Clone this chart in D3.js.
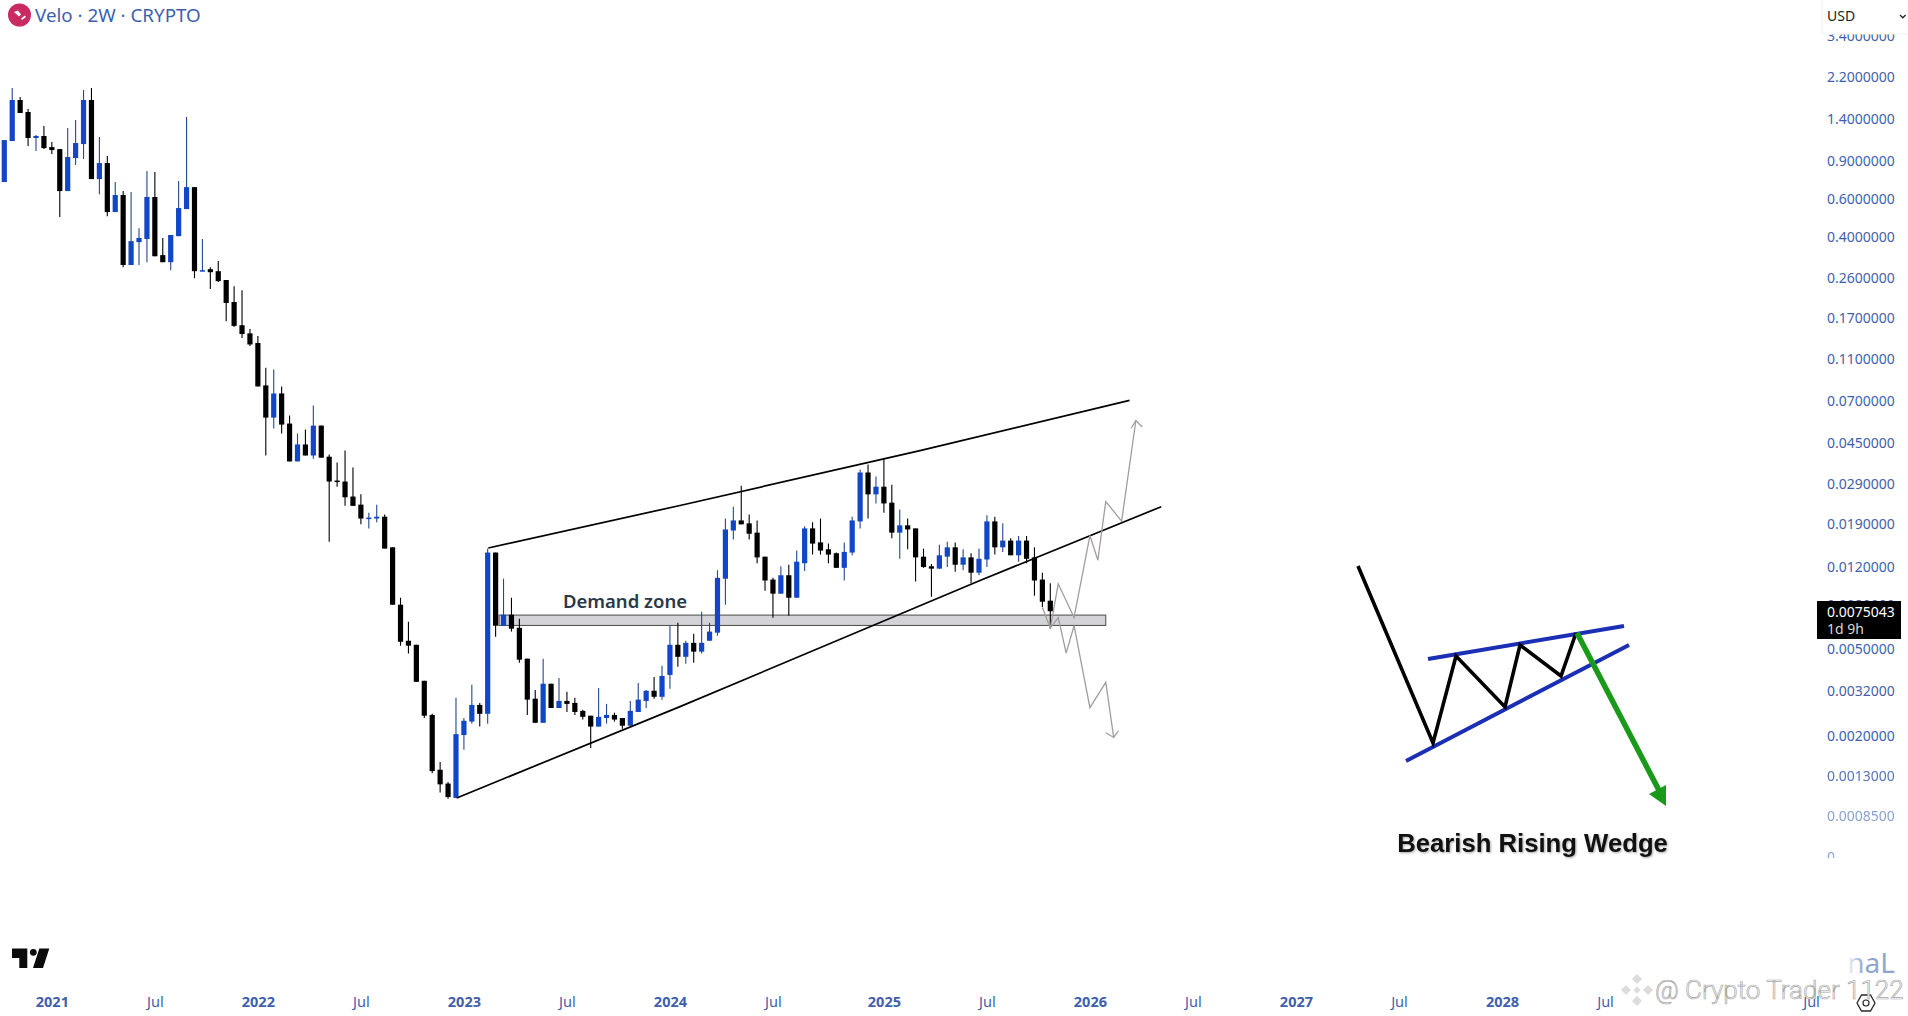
<!DOCTYPE html>
<html>
<head>
<meta charset="utf-8">
<title>Velo 2W</title>
<script src="https://cdn.jsdelivr.net/npm/d3@7"></script>
<style>
    html, body { margin: 0; padding: 0; background: #fff; overflow: hidden; }
    svg { display: block; }
    .axis path, .axis line { display: none; }
</style>
</head>
<body>
<div id="chart"></div>
<script>
// Two week candles, one entry per bar, left to right
const opens = [0.72,1.113,1.723,1.516,1.15,1.175,1.044,1.022,0.654,0.929,1.078,1.723,0.743,0.881,0.523,0.627,0.298,0.38,0.393,0.614,0.331,0.307,0.405,0.54,0.682,0.28,0.285,0.279,0.254,0.201,0.157,0.144,0.13,0.0828,0.0588,0.076,0.0552,0.0369,0.0442,0.0393,0.054,0.0388,0.0301,0.0298,0.0254,0.0233,0.0202,0.0201,0.0205,0.0148,
    0.00804,0.00548,0.00525,0.00358,0.00249,0.00139,0.0012,0.00103,0.00201,0.00232,0.00277,0.00252,0.014,0.00643,0.00723,0.00629,0.00453,0.00296,0.00229,0.00347,0.00268,0.00289,0.00283,0.0026,0.00247,0.0022,0.00241,0.00249,0.00241,0.00222,0.00257,0.00289,0.00322,0.00302,0.00381,0.00525,0.00462,0.00536,0.00488,0.00548,
    0.00597,0.0106,0.0177,0.0197,0.0191,0.0173,0.0134,0.0105,0.00904,0.011,0.00866,0.0125,0.0181,0.0156,0.0145,0.0139,0.0119,0.014,0.0195,0.0328,0.026,0.0282,0.0238,0.0173,0.0187,0.0181,0.0134,0.0121,0.0118,0.0134,0.0148,0.0123,0.0133,0.0113,0.013,0.0195,0.0148,0.0159,0.0136,0.0159,0.0133,0.0105,0.00839];
const highs = [1.125,1.957,1.778,1.566,1.187,1.307,1.101,1.022,1.279,1.393,1.916,1.957,1.162,0.949,0.72,0.654,0.647,0.441,0.809,0.801,0.397,0.41,0.727,1.438,0.682,0.393,0.291,0.311,0.254,0.238,0.228,0.151,0.14,0.1,0.0981,0.0819,0.0601,0.0497,0.0518,0.0669,0.054,0.0397,0.0365,0.0414,0.0346,0.026,0.0214,0.0233,0.021,0.0148,
    0.00866,0.00671,0.00525,0.00358,0.00252,0.00151,0.00122,0.00299,0.00241,0.00343,0.00283,0.0146,0.014,0.0106,0.00866,0.00692,0.00453,0.00325,0.00453,0.00347,0.00369,0.00319,0.00299,0.00263,0.00247,0.00332,0.0028,0.00255,0.00241,0.00289,0.0035,0.00325,0.00373,0.0042,0.00643,0.00664,0.00548,0.00591,0.00746,0.00664,
    0.0116,0.0201,0.0228,0.0285,0.021,0.0197,0.0134,0.0107,0.0121,0.0123,0.0143,0.0185,0.0193,0.0201,0.0154,0.014,0.0156,0.0205,0.0339,0.0357,0.0314,0.038,0.0288,0.0221,0.0201,0.0181,0.0146,0.0124,0.0152,0.0157,0.0156,0.0145,0.0139,0.0146,0.0208,0.0205,0.0191,0.0163,0.0167,0.0167,0.0148,0.0113,0.0101];
const lows = [0.72,1.113,1.5,1.055,1.001,1.022,0.97,0.496,0.654,0.863,0.92,0.743,0.633,0.501,0.523,0.291,0.298,0.298,0.307,0.327,0.307,0.282,0.405,0.54,0.259,0.279,0.231,0.249,0.164,0.154,0.137,0.126,0.0819,0.0393,0.0523,0.0497,0.0369,0.0369,0.0393,0.038,0.0384,0.0157,0.0282,0.023,0.023,0.0189,0.0181,0.0193,0.0146,0.00804,
    0.0052,0.00478,0.00354,0.00241,0.00134,0.00109,0.00102,0.00103,0.00172,0.00227,0.0022,0.00227,0.00572,0.00643,0.00604,0.00434,0.00249,0.00229,0.00229,0.00268,0.00268,0.00257,0.00249,0.00237,0.00175,0.0022,0.00227,0.00232,0.00215,0.00222,0.00257,0.00268,0.00296,0.00293,0.00329,0.00416,0.00429,0.00434,0.00478,0.00548,
    0.00578,0.00804,0.0161,0.0189,0.0161,0.0125,0.00933,0.007,0.00904,0.00715,0.00866,0.0115,0.0137,0.0137,0.0125,0.0119,0.0104,0.0136,0.0181,0.0201,0.0236,0.0214,0.0163,0.0131,0.0145,0.0103,0.0119,0.00875,0.0118,0.012,0.0114,0.0116,0.0101,0.011,0.012,0.0137,0.0141,0.0136,0.0127,0.0125,0.00885,0.00784,0.00623];
const closes = [1.125,1.723,1.5,1.15,1.175,1.033,1.012,0.654,0.939,1.09,1.723,0.743,0.881,0.523,0.627,0.298,0.384,0.397,0.614,0.327,0.307,0.41,0.546,0.682,0.279,0.282,0.276,0.251,0.199,0.156,0.143,0.128,0.0819,0.0588,0.076,0.0546,0.0369,0.0442,0.0393,0.054,0.0384,0.0298,0.0298,0.0252,0.023,0.0201,0.0203,0.0205,0.0146,0.00804,
    0.00542,0.0052,0.00354,0.00247,0.00137,0.00119,0.00104,0.00203,0.00234,0.00277,0.00252,0.014,0.00643,0.00723,0.00623,0.00448,0.00293,0.00229,0.00347,0.00268,0.00289,0.0028,0.00257,0.00244,0.0022,0.00244,0.00249,0.00237,0.00222,0.0026,0.00293,0.00322,0.00302,0.00377,0.00525,0.00462,0.00536,0.00488,0.00536,0.00604,
    0.0107,0.0179,0.0197,0.0189,0.0171,0.0133,0.0104,0.00904,0.011,0.00866,0.0127,0.0181,0.0154,0.0143,0.0137,0.0119,0.0141,0.0197,0.0328,0.026,0.0282,0.0236,0.0173,0.0187,0.0179,0.0133,0.012,0.0118,0.0136,0.0148,0.0123,0.0133,0.0113,0.0131,0.0195,0.0148,0.0159,0.0136,0.0159,0.0131,0.0104,0.0083,0.0075];

// Axis ticks: bar number and label
const timeTickBars = [6,19,32,45,58,71,84,97,111,124,137,150,163,176,189,202,228];
const timeTickLabels = ['2021','Jul','2022','Jul','2023','Jul','2024','Jul','2025','Jul','2026','Jul','2027','Jul','2028','Jul','Jul'];
const priceTicks = [3.4,2.2,1.4,0.9,0.6,0.4,0.26,0.17,0.11,0.07,0.045,0.029,0.019,0.012,0.008,0.005,0.0032,0.002,0.0013,0.00085,0.00055];
const lastPrice = 0.0075043;

// Drawn lines on the chart as [bar, price]
const upperTrend = [[61.08,0.0147],[85.27,0.0231],[115.56,0.0414],[142,0.0706]];
const lowerTrend = [[57.09,0.00103],[85.27,0.00272],[123.13,0.0104],[146,0.0228]];
const demandZone = { from: 62.43, to: 139, top: 0.0072, bottom: 0.00645 };
const bearPath = [[131,0.0078],[132,0.00627],[133,0.00702],[134,0.00481],[135,0.00643],[137,0.00269],[139,0.00352],[140,0.00196]];
const bearHead = [[139,0.00206],[140,0.00196],[140.6,0.0021]];
const bullPath = [[132,0.00627],[133,0.01004],[135,0.00702],[137,0.01678],[138,0.0129],[139,0.0241],[141,0.01955],[142.8,0.057]];
const bullHead = [[142.2,0.0525],[142.8,0.057],[143.6,0.0532]];

// Small wedge sketch on the right, in its own 0..320 / 0..250 units
const sketchZigzag = [[18,26],[93,203],[116,116],[165,167],[180,105],[221,136],[236,93]];
const sketchUpper = [[88,119],[284,86]];
const sketchLower = [[66,221],[289,105]];
const sketchArrow = [[237,93],[323,258]];
const sketchHead = [[309,254],[326,266],[326,245]];

const colors = { up: '#1146c6', upWick: '#23488f', down: '#000000', label: '#3f5fae', zone: '#d4d4d8', ghost: '#a39d9d' };

function drawChart() {
    const width = 1908, height = 1016;
    const svg = d3.select('#chart').append('svg').attr('width', width).attr('height', height);

    // Bars are evenly spaced, price is a log scale
    const x = d3.scaleLinear().domain([0, 132]).range([4.3, 1050.3]);
    const y = d3.scaleLog().domain([2.2, 0.00085]).range([77, 816]);

    const chartLine = d3.line().x(d => x(d[0])).y(d => y(d[1]));

    // Demand zone sits behind the candles
    svg.append('rect')
        .attr('x', x(demandZone.from))
        .attr('y', y(demandZone.top))
        .attr('width', x(demandZone.to) - x(demandZone.from))
        .attr('height', y(demandZone.bottom) - y(demandZone.top))
        .attr('fill', colors.zone)
        .attr('stroke', '#4a4a4a')
        .attr('stroke-width', 1);

    svg.append('text')
        .attr('x', 625)
        .attr('y', 602)
        .attr('dy', '0.35em')
        .attr('text-anchor', 'middle')
        .style('font-family', '"Noto Sans"')
        .style('font-size', '18.5px')
        .style('font-weight', '600')
        .style('fill', '#2b3848')
        .text('Demand zone');

    // Candles
    const candles = svg.append('g').selectAll('g')
        .data(opens.map((o, i) => ({ i, o, h: highs[i], l: lows[i], c: closes[i] })))
        .enter()
        .append('g');

    candles.append('line')
        .attr('x1', d => x(d.i))
        .attr('x2', d => x(d.i))
        .attr('y1', d => y(d.h))
        .attr('y2', d => y(d.l))
        .attr('stroke', d => d.c >= d.o ? colors.upWick : colors.down)
        .attr('stroke-width', 1.1);

    candles.append('rect')
        .attr('x', d => x(d.i) - 2.6)
        .attr('width', 5.2)
        .attr('y', d => y(Math.max(d.o, d.c)))
        .attr('height', d => Math.max(1.5, Math.abs(y(d.o) - y(d.c))))
        .attr('fill', d => d.c >= d.o ? colors.up : colors.down);

    // Trend lines
    [upperTrend, lowerTrend].forEach(points => {
        svg.append('path')
            .attr('d', chartLine(points))
            .attr('fill', 'none')
            .attr('stroke', '#000')
            .attr('stroke-width', 1.7);
    });

    // Grey projected paths with their arrow heads
    [bearPath, bearHead, bullPath, bullHead].forEach(points => {
        svg.append('path')
            .attr('d', chartLine(points))
            .attr('fill', 'none')
            .attr('stroke', colors.ghost)
            .attr('stroke-width', 1.3);
    });

    drawSketch(svg);
    drawPriceAxis(svg, y);
    drawTimeAxis(svg, x, height);
    drawHeader(svg);
    drawWatermark(svg);
}

function drawSketch(svg) {
    const sx = d3.scaleLinear().domain([0, 320]).range([1340, 1660]);
    const sy = d3.scaleLinear().domain([0, 250]).range([540, 790]);
    const sketchLine = d3.line().x(d => sx(d[0])).y(d => sy(d[1]));

    [sketchUpper, sketchLower].forEach(points => {
        svg.append('path')
            .attr('d', sketchLine(points))
            .attr('fill', 'none')
            .attr('stroke', '#1b2fb4')
            .attr('stroke-width', 4);
    });

    svg.append('path')
        .attr('d', sketchLine(sketchZigzag))
        .attr('fill', 'none')
        .attr('stroke', '#000')
        .attr('stroke-width', 3.6);

    svg.append('path')
        .attr('d', sketchLine(sketchArrow))
        .attr('fill', 'none')
        .attr('stroke', '#1a9a1a')
        .attr('stroke-width', 5.5);

    svg.append('path')
        .attr('d', sketchLine(sketchHead) + 'Z')
        .attr('fill', '#1a9a1a');

    svg.append('text')
        .attr('x', 1532.5)
        .attr('y', 843)
        .attr('dy', '0.35em')
        .attr('text-anchor', 'middle')
        .style('font-family', '"Liberation Sans"')
        .style('font-size', '25.7px')
        .style('font-weight', '700')
        .style('fill', '#111')
        .style('filter', 'drop-shadow(1px 1.5px 1px rgba(0,0,0,0.35))')
        .text('Bearish Rising Wedge');
}

function drawPriceAxis(svg, y) {
    // Clip so that the lowest label only shows its top edge
    svg.append('clipPath').attr('id', 'price-clip')
        .append('rect').attr('x', 1780).attr('y', 0).attr('width', 128).attr('height', 858);

    // The lowest label has faded away apart from its first digit
    const lowFade = svg.append('defs').append('linearGradient')
        .attr('id', 'low-fade')
        .attr('x1', 0).attr('x2', 1).attr('y1', 0).attr('y2', 0);
    lowFade.append('stop').attr('offset', '10%').attr('stop-color', colors.label).attr('stop-opacity', 0.6);
    lowFade.append('stop').attr('offset', '13%').attr('stop-color', colors.label).attr('stop-opacity', 0);

    const axis = svg.append('g')
        .attr('clip-path', 'url(#price-clip)')
        .append('g')
        .attr('class', 'axis')
        .attr('transform', 'translate(1827, 0)')
        .call(d3.axisRight(y).tickValues(priceTicks).tickFormat(d => d.toFixed(7)).tickSize(0).tickPadding(0));

    axis.selectAll('text')
        .style('font-family', '"Noto Sans"')
        .style('font-size', '14px')
        .style('fill', d => d < 0.0006 ? 'url(#low-fade)' : colors.label)
        .style('opacity', d => d < 0.0006 ? 1 : d < 0.001 ? 0.6 : d < 0.0015 ? 0.88 : 1);

    // Currency box covers the top label
    svg.append('rect')
        .attr('x', 1822).attr('y', -1).attr('width', 90).attr('height', 35)
        .attr('fill', '#fff').attr('stroke', '#f0f0f0');
    svg.append('text')
        .attr('x', 1827).attr('y', 16).attr('dy', '0.35em')
        .style('font-family', '"Noto Sans"').style('font-size', '14px').style('fill', '#1c1f26')
        .text('USD');
    svg.append('path')
        .attr('d', 'M1900,15 l2.8,2.8 l2.8,-2.8')
        .attr('fill', 'none').attr('stroke', '#222').attr('stroke-width', 1.3);

    // Last price badge
    svg.append('rect')
        .attr('x', 1817).attr('y', 601).attr('width', 84).attr('height', 38)
        .attr('fill', '#000');
    svg.append('text')
        .attr('x', 1827).attr('y', 612).attr('dy', '0.35em')
        .style('font-family', '"Noto Sans"').style('font-size', '14px').style('fill', '#fff')
        .text(lastPrice.toFixed(7));
    svg.append('text')
        .attr('x', 1827).attr('y', 629).attr('dy', '0.35em')
        .style('font-family', '"Noto Sans"').style('font-size', '14px').style('fill', '#d8d8d8')
        .text('1d 9h');
}

function drawTimeAxis(svg, x, height) {
    const axis = svg.append('g')
        .attr('class', 'axis')
        .attr('transform', `translate(0, ${height - 22})`)
        .call(d3.axisBottom(x)
            .tickValues(timeTickBars)
            .tickFormat((d, i) => timeTickLabels[i])
            .tickSize(0)
            .tickPadding(0));

    axis.selectAll('text')
        .attr('dy', '0.9em')
        .style('font-family', '"Noto Sans"')
        .style('font-size', '14.5px')
        .style('font-weight', (d, i) => timeTickLabels[i] === 'Jul' ? '400' : '700')
        .style('fill', colors.label);

    // TradingView mark
    svg.append('path')
        .attr('d', 'M12,948.5 H27.3 V968 H19.3 V958 H12 Z M39.3,948.5 H49.3 L43,968 H33 Z')
        .attr('fill', '#0b0b0b');
    svg.append('circle').attr('cx', 33.3).attr('cy', 952.3).attr('r', 3.4).attr('fill', '#0b0b0b');
}

function drawHeader(svg) {
    svg.append('circle').attr('cx', 19.5).attr('cy', 15).attr('r', 11.5).attr('fill', '#c92a61');
    svg.append('path')
        .attr('d', 'M14,12 l5,4.5 l2,-2 l-3,-4 Z M21,18.5 l4,-3 l1,1.5 l-4,3 Z')
        .attr('fill', '#fff');
    svg.append('text')
        .attr('x', 35).attr('y', 15).attr('dy', '0.35em')
        .style('font-family', '"Noto Sans"').style('font-size', '18.8px').style('fill', colors.label)
        .text('Velo · 2W · CRYPTO');
}

function drawWatermark(svg) {
    // Fragment of a second watermark in the corner, fading out to the left
    const fade = svg.append('defs').append('linearGradient')
        .attr('id', 'corner-fade')
        .attr('x1', 0).attr('x2', 1).attr('y1', 0).attr('y2', 0);
    fade.append('stop').attr('offset', '0%').attr('stop-color', '#8ea5cf').attr('stop-opacity', 0.1);
    fade.append('stop').attr('offset', '35%').attr('stop-color', '#8ea5cf').attr('stop-opacity', 1);

    svg.append('text')
        .attr('x', 1895).attr('y', 973)
        .attr('text-anchor', 'end')
        .style('font-family', '"Noto Sans"').style('font-size', '28px').style('fill', 'url(#corner-fade)')
        .text('naL');

    // Settings cog of the chart
    svg.append('path')
        .attr('d', 'M1857,1003 l4.5,-8 h9 l4.5,8 l-4.5,8 h-9 Z')
        .attr('fill', 'none').attr('stroke', '#2a2a2a').attr('stroke-width', 1.3);
    svg.append('circle').attr('cx', 1866).attr('cy', 1003).attr('r', 3)
        .attr('fill', 'none').attr('stroke', '#2a2a2a').attr('stroke-width', 1.2);

    // Exchange diamonds
    const diamonds = [[1637, 979, 5], [1626, 990, 5], [1648, 990, 5], [1637, 1001, 5], [1637, 990, 3.5]];
    svg.append('g').selectAll('path')
        .data(diamonds)
        .enter()
        .append('path')
        .attr('d', d => `M${d[0]},${d[1] - d[2]} l${d[2]},${d[2]} l${-d[2]},${d[2]} l${-d[2]},${-d[2]} Z`)
        .attr('fill', '#dcdcdc');

    svg.append('text')
        .attr('x', 1655).attr('y', 999)
        .style('font-family', '"Roboto"')
        .style('font-size', '26px')
        .style('font-weight', '300')
        .style('fill', '#fff')
        .style('stroke', '#a8a8a8')
        .style('stroke-width', '0.7px')
        .text('@ Crypto Trader 1122');
}

drawChart();
</script>
</body>
</html>
